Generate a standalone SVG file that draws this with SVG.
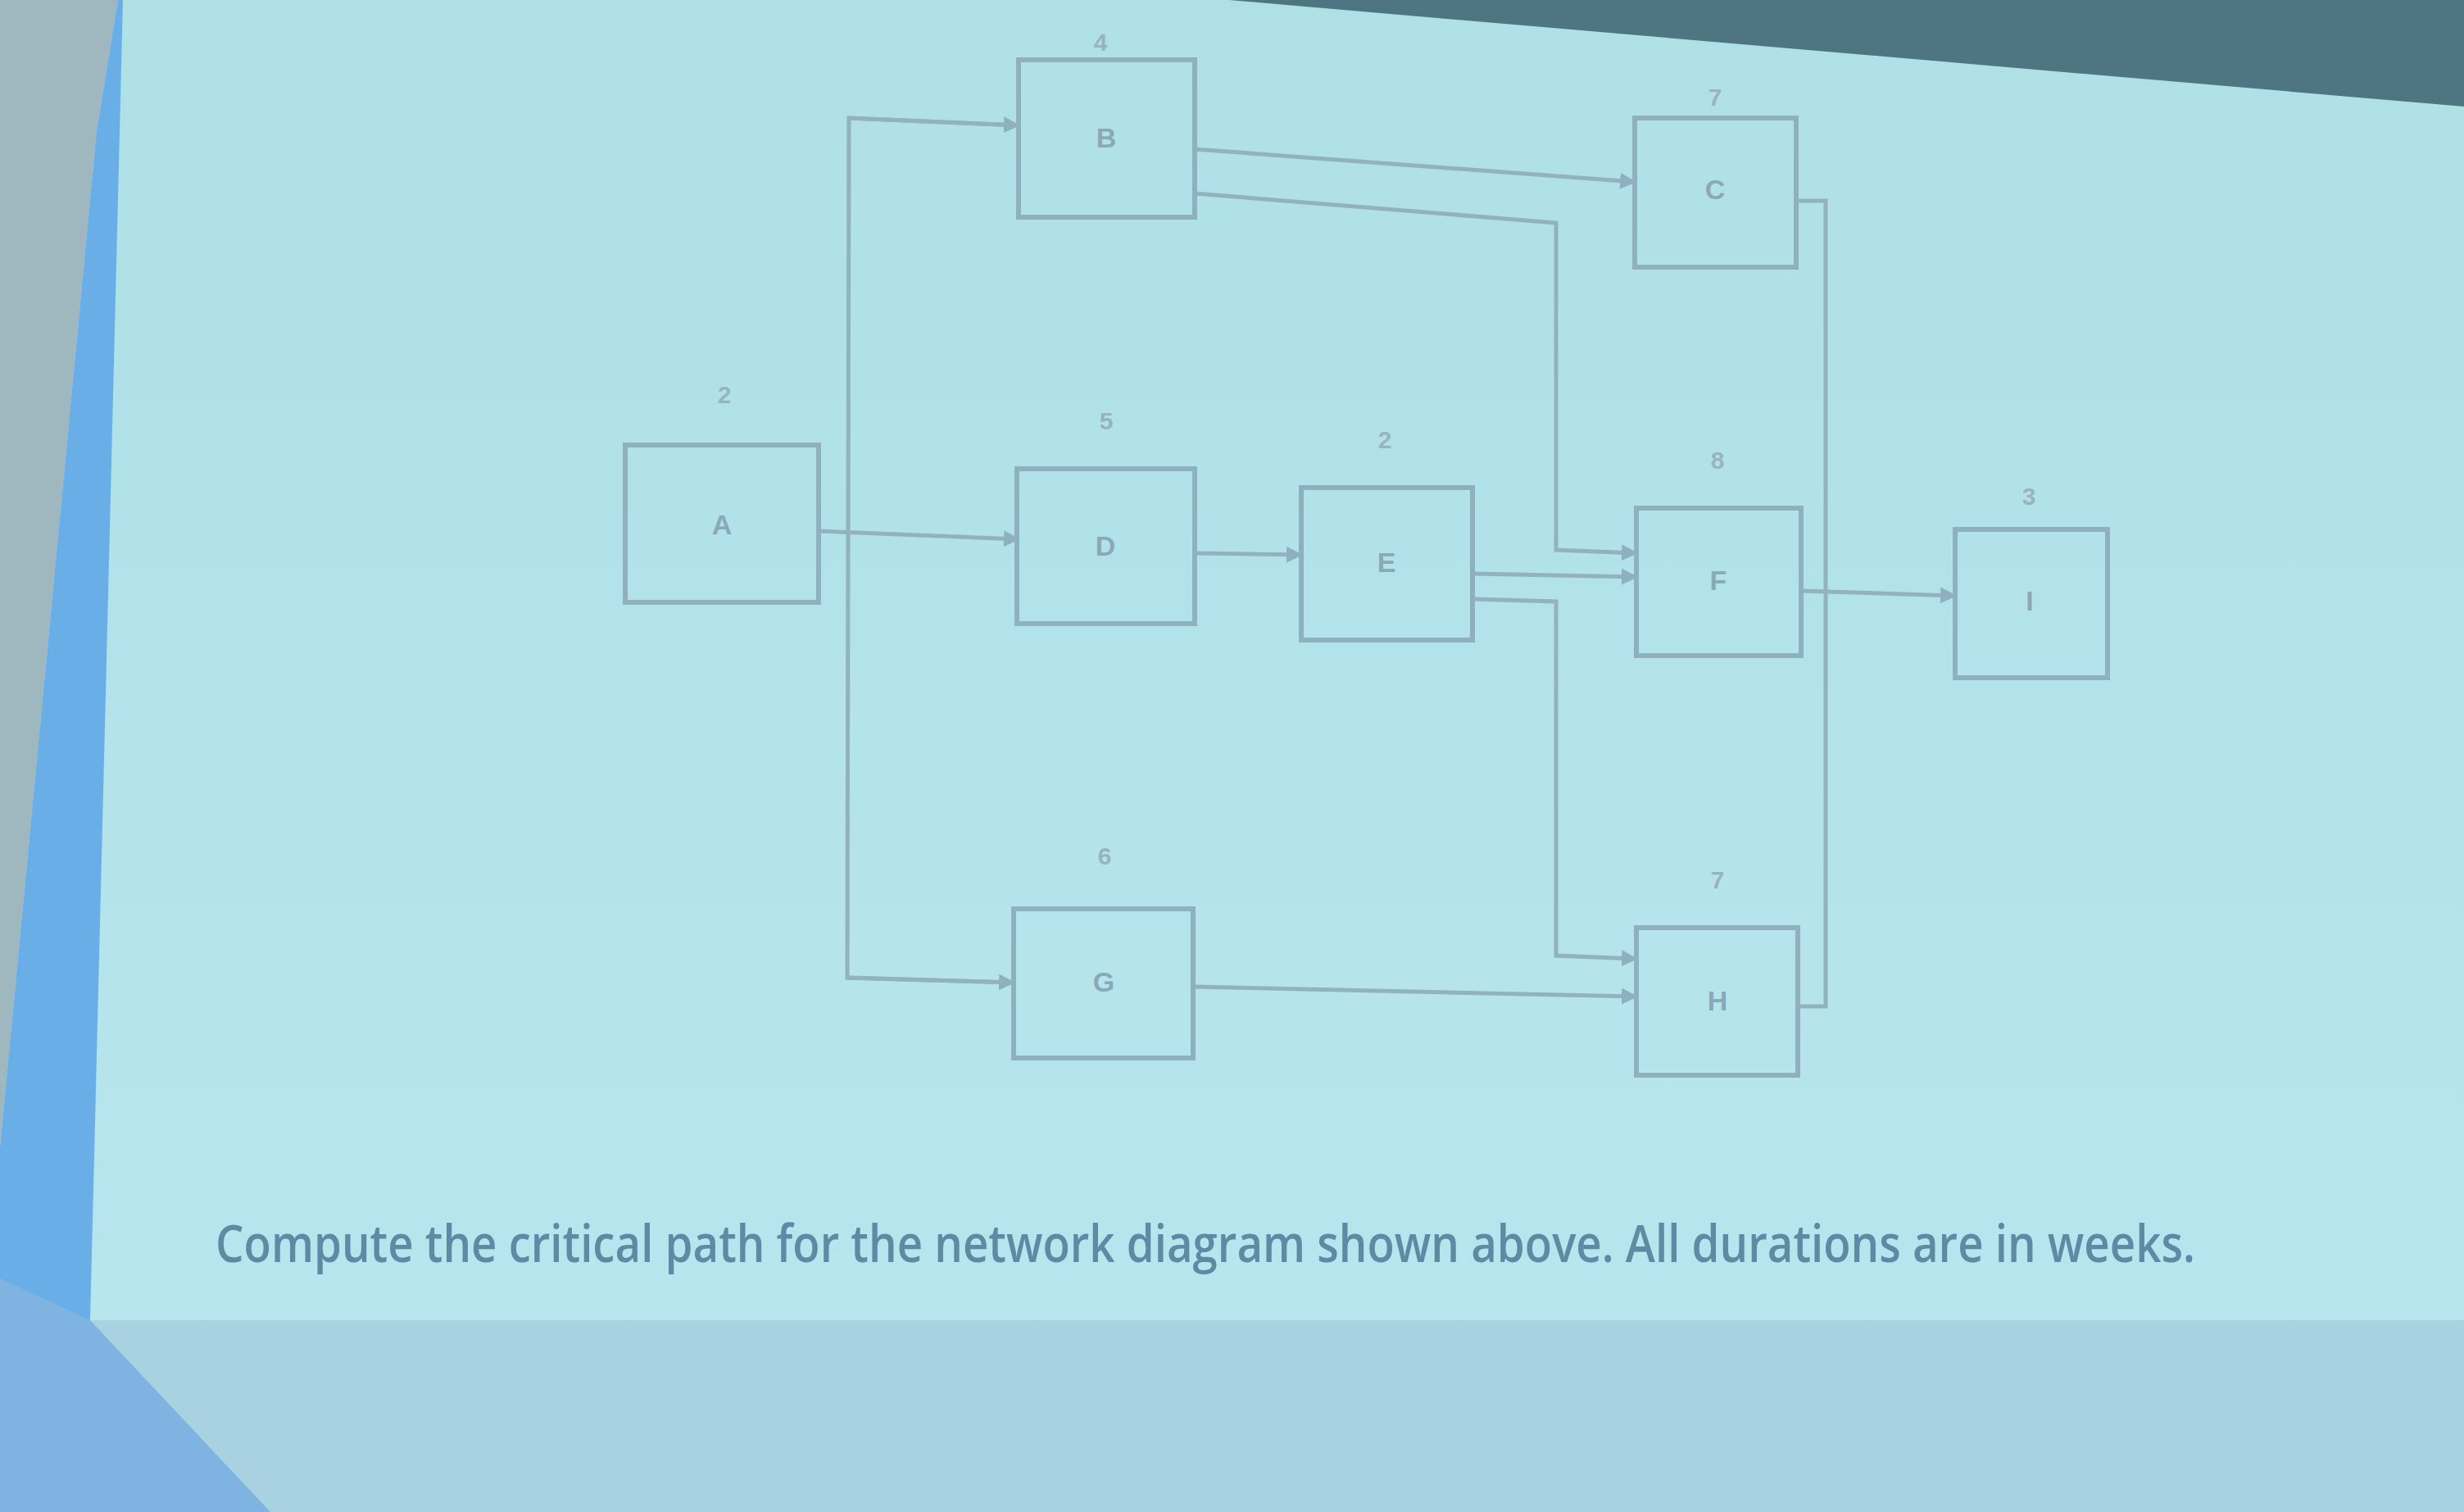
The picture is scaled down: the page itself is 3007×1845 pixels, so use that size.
<svg xmlns="http://www.w3.org/2000/svg" width="3007" height="1845" viewBox="0 0 3007 1845">
<defs>
<style>
.box{fill:none;stroke:#8fb0be;stroke-width:6}
.lbl{font-family:"Liberation Sans",Arial,sans-serif;font-weight:bold;font-size:34px;fill:#8aa9b8;text-anchor:middle}
.num{font-family:"Liberation Sans",Arial,sans-serif;font-weight:bold;font-size:30px;fill:#98b4c0;text-anchor:middle}
.ln{fill:none;stroke:#92b2c0;stroke-width:5}
</style>
<marker id="ah" viewBox="0 0 10 10" refX="9" refY="5" markerWidth="4" markerHeight="4" orient="auto"><path d="M0,0L10,5L0,10z" fill="#8fb0be"/></marker>
<linearGradient id="bg" x1="0" y1="0" x2="0" y2="1"><stop offset="0" stop-color="#aee0e6"/><stop offset="1" stop-color="#b9e6ef"/></linearGradient>
</defs>
<rect width="3007" height="1845" fill="url(#bg)"/>
<rect x="0" y="1611" width="3007" height="234" fill="#a8d2e0"/>
<polygon points="1500,0 3007,0 3007,130" fill="#4e7582"/>
<polygon points="0,0 144,0 118,160 0,1400" fill="#9fb8c0"/>
<polygon points="118,160 144,0 150,0 110,1611 0,1611 0,1400" fill="#6aaee8"/>
<polygon points="0,1560 110,1611 330,1845 0,1845" fill="#7fb3e2"/>
<g id="connectors">
<polyline class="ln" points="999,648 1243,658" marker-end="url(#ah)"/>
<polyline class="ln" points="1243,153 1036,144 1034,1193 1237,1199" />
<polyline class="ln" points="1036,144 1243,153" marker-end="url(#ah)"/>
<polyline class="ln" points="1034,1193 1237,1199" marker-end="url(#ah)"/>
<polyline class="ln" points="1458,182 1995,222" marker-end="url(#ah)"/>
<polyline class="ln" points="1458,236 1899,272 1899,671 1997,675" marker-end="url(#ah)"/>
<polyline class="ln" points="1458,675 1588,677" marker-end="url(#ah)"/>
<polyline class="ln" points="1797,700 1997,704" marker-end="url(#ah)"/>
<polyline class="ln" points="1797,731 1899,734 1899,1166 1997,1170" marker-end="url(#ah)"/>
<polyline class="ln" points="2198,721 2386,727" marker-end="url(#ah)"/>
<polyline class="ln" points="2192,245 2228,245 2228,1228 2194,1228"/>
<polyline class="ln" points="1456,1204 1997,1216" marker-end="url(#ah)"/>
</g>
<g id="A"><rect class="box" x="763" y="543" width="236" height="192"/><text class="lbl" x="881" y="652">A</text><text class="num" x="884" y="492">2</text></g>
<g id="B"><rect class="box" x="1243" y="73" width="215" height="192"/><text class="lbl" x="1350" y="180">B</text><text class="num" x="1343" y="62">4</text></g>
<g id="C"><rect class="box" x="1995" y="144" width="197" height="182"/><text class="lbl" x="2093" y="243">C</text><text class="num" x="2093" y="129">7</text></g>
<g id="D"><rect class="box" x="1241" y="572" width="217" height="189"/><text class="lbl" x="1349" y="678">D</text><text class="num" x="1350" y="524">5</text></g>
<g id="E"><rect class="box" x="1588" y="595" width="209" height="186"/><text class="lbl" x="1692" y="698">E</text><text class="num" x="1690" y="547">2</text></g>
<g id="F"><rect class="box" x="1997" y="620" width="201" height="180"/><text class="lbl" x="2097" y="720">F</text><text class="num" x="2096" y="572">8</text></g>
<g id="I"><rect class="box" x="2386" y="646" width="186" height="181"/><text class="lbl" x="2477" y="745">I</text><text class="num" x="2476" y="616">3</text></g>
<g id="G"><rect class="box" x="1237" y="1109" width="219" height="182"/><text class="lbl" x="1347" y="1210">G</text><text class="num" x="1348" y="1055">6</text></g>
<g id="H"><rect class="box" x="1997" y="1132" width="197" height="180"/><text class="lbl" x="2096" y="1233">H</text><text class="num" x="2096" y="1084">7</text></g>
<text x="263" y="1540" font-family="'Open Sans','Liberation Sans',sans-serif" font-size="64" font-weight="600" fill="#5f8aa3" textLength="2416" lengthAdjust="spacingAndGlyphs">Compute the critical path for the network diagram shown above. All durations are in weeks.</text>
</svg>
